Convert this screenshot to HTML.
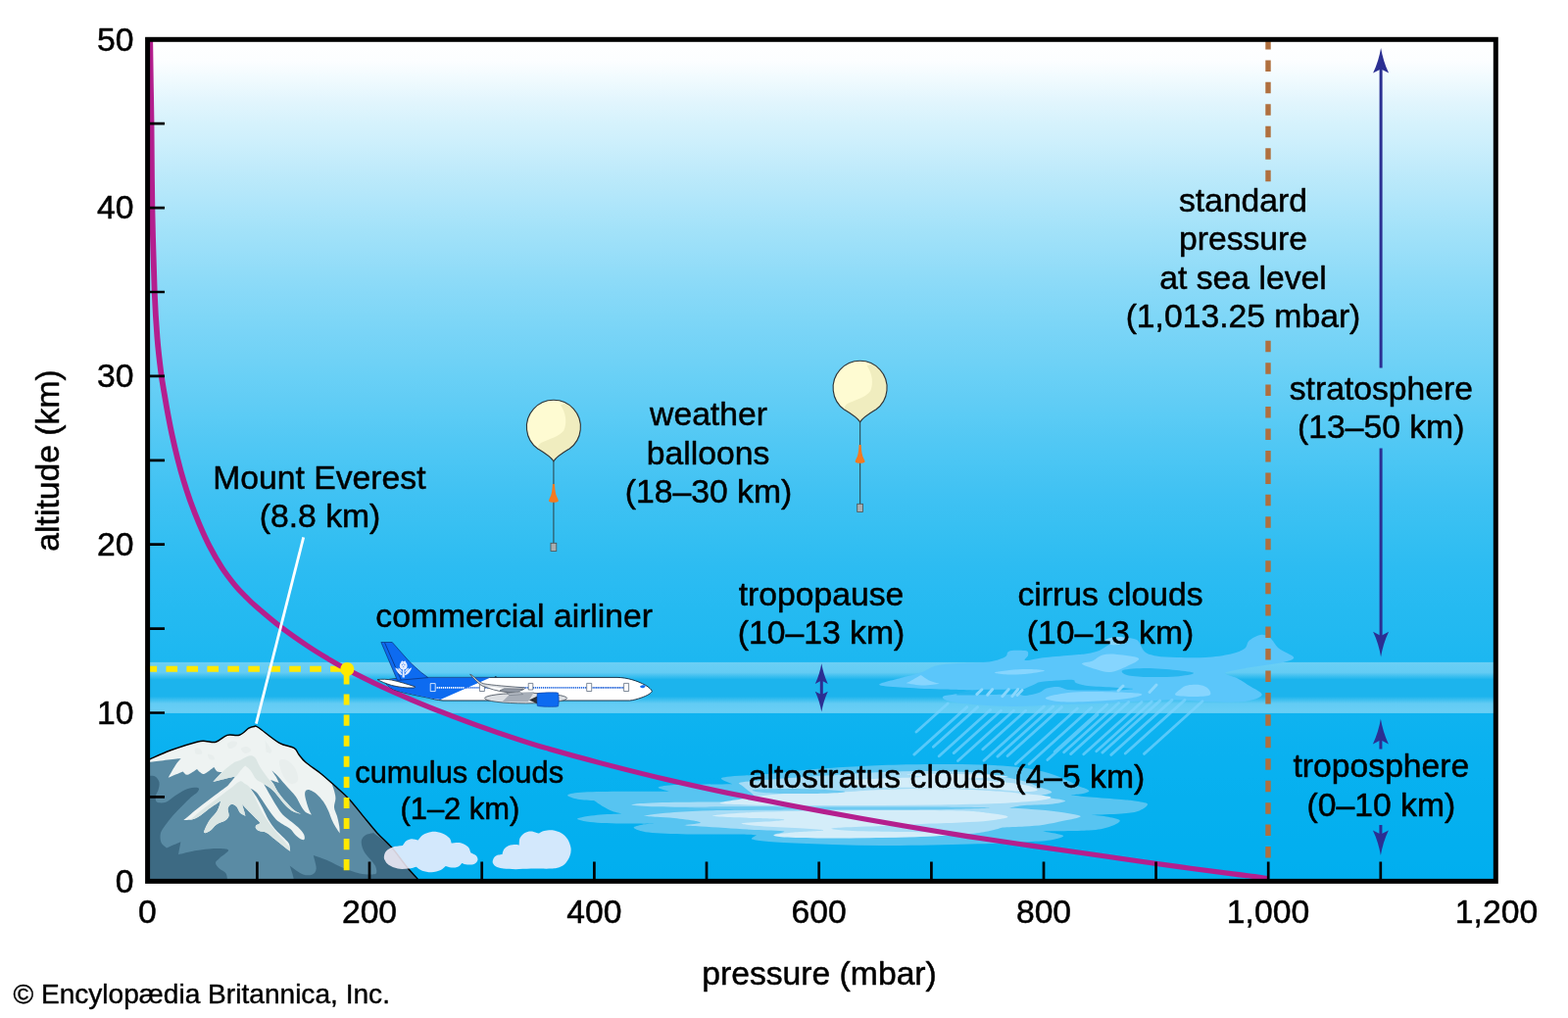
<!DOCTYPE html>
<html lang="en">
<head>
<meta charset="utf-8">
<title>Atmospheric pressure and altitude</title>
<style>
html,body{margin:0;padding:0;background:#fff;}
body{width:1600px;height:1039px;overflow:hidden;font-family:"Liberation Sans",sans-serif;}
svg{display:block;}
text{font-family:"Liberation Sans",sans-serif;font-size:33.7px;fill:#000;stroke:#000;stroke-width:0.5px;stroke-linejoin:round;}
.c{text-anchor:middle;}
.sm{font-size:30.9px;}
.r{text-anchor:end;}
.copy{font-size:28.1px;stroke-width:0.4px;}
</style>
</head>
<body>
<svg width="1600" height="1039" viewBox="0 0 1600 1039">
<defs>
<linearGradient id="sky" x1="0" y1="40" x2="0" y2="900" gradientUnits="userSpaceOnUse">
<stop offset="0" stop-color="#ffffff"/>
<stop offset="0.025" stop-color="#fcfeff"/>
<stop offset="0.05" stop-color="#effafe"/>
<stop offset="0.075" stop-color="#e1f5fd"/>
<stop offset="0.1" stop-color="#d6f2fc"/>
<stop offset="0.125" stop-color="#cceffc"/>
<stop offset="0.15" stop-color="#c1ebfb"/>
<stop offset="0.175" stop-color="#b7e8fa"/>
<stop offset="0.2" stop-color="#ade5fa"/>
<stop offset="0.225" stop-color="#a3e2f9"/>
<stop offset="0.25" stop-color="#9adff9"/>
<stop offset="0.275" stop-color="#91dcf8"/>
<stop offset="0.3" stop-color="#88d9f8"/>
<stop offset="0.325" stop-color="#80d7f7"/>
<stop offset="0.35" stop-color="#78d4f7"/>
<stop offset="0.375" stop-color="#71d2f6"/>
<stop offset="0.4" stop-color="#69d0f6"/>
<stop offset="0.425" stop-color="#62cdf5"/>
<stop offset="0.45" stop-color="#5acbf5"/>
<stop offset="0.475" stop-color="#52c8f4"/>
<stop offset="0.5" stop-color="#4bc6f4"/>
<stop offset="0.525" stop-color="#44c3f3"/>
<stop offset="0.55" stop-color="#3dc1f3"/>
<stop offset="0.575" stop-color="#38c0f2"/>
<stop offset="0.6" stop-color="#32bef2"/>
<stop offset="0.625" stop-color="#2dbcf2"/>
<stop offset="0.65" stop-color="#29bbf2"/>
<stop offset="0.675" stop-color="#25baf1"/>
<stop offset="0.7" stop-color="#22b9f1"/>
<stop offset="0.725" stop-color="#1eb8f1"/>
<stop offset="0.75" stop-color="#1ab6f1"/>
<stop offset="0.775" stop-color="#14b4f0"/>
<stop offset="0.8" stop-color="#0fb3f0"/>
<stop offset="0.825" stop-color="#0cb2f0"/>
<stop offset="0.85" stop-color="#0ab1f0"/>
<stop offset="0.875" stop-color="#08b1f0"/>
<stop offset="0.9" stop-color="#06b0ef"/>
<stop offset="0.925" stop-color="#05b0ef"/>
<stop offset="0.95" stop-color="#03afef"/>
<stop offset="0.975" stop-color="#02afef"/>
<stop offset="1" stop-color="#00aeef"/>
</linearGradient>
<linearGradient id="band" x1="0" y1="675.9" x2="0" y2="727.9" gradientUnits="userSpaceOnUse">
<stop offset="0" stop-color="#6bcff5"/>
<stop offset="0.2" stop-color="#64ccf4"/>
<stop offset="0.27" stop-color="#3fc0f0"/>
<stop offset="0.34" stop-color="#1cb4ed"/>
<stop offset="0.67" stop-color="#1cb4ed"/>
<stop offset="0.74" stop-color="#3fc0f0"/>
<stop offset="0.81" stop-color="#62cbf4"/>
<stop offset="1" stop-color="#6bcff5"/>
</linearGradient>
</defs>
<!-- SKY -->
<g id="sky-layer">
<rect x="150.6" y="40.3" width="1375.7" height="859.1" fill="url(#sky)"/>
<rect x="150.6" y="675.9" width="1375.7" height="52" fill="url(#band)"/>
</g>
<!-- ALTOSTRATUS -->
<g id="altostratus">
<path d="M736 795.1C735.1 793.9 738 793.4 742 792.8C746 792.2 752 792 760 791.5C768 791 780 790.4 790 789.5C800 788.6 808.3 787.1 820 786C831.7 784.9 846.7 783.8 860 783C873.3 782.2 885 781.5 900 781C915 780.5 933.3 780.1 950 780C966.7 779.9 985 780 1000 780.5C1015 781 1028.3 781.6 1040 783C1051.7 784.4 1061.7 786.7 1070 789C1078.3 791.3 1085 794.8 1090 797C1095 799.2 1097 800.7 1100 802C1103 803.3 1106.1 804.1 1108 805C1109.9 805.9 1111.8 806.8 1111.3 807.6C1110.8 808.4 1108.1 809.4 1105 810C1101.9 810.6 1094.9 811.2 1092.9 811.5C1096.1 811.8 1103.5 812.8 1112 813.5C1120.5 814.2 1136.3 815.3 1144 816C1151.7 816.7 1153.5 816.7 1158 817.5C1162.5 818.3 1170.5 819 1171 820.7C1171.5 822.5 1165.5 826.4 1161 828C1156.5 829.6 1151.8 829.9 1144 830.5C1136.2 831.1 1118.9 831.6 1113.9 831.8C1116.8 832.1 1126.2 832.8 1131 833.8C1135.8 834.8 1142.8 836 1142.8 837.8C1142.8 839.5 1136.3 842.7 1131 844.3C1125.7 845.9 1122.2 846.9 1111 847.6C1099.8 848.3 1071.8 848.4 1064 848.5C1066.4 848.9 1074.9 850.1 1078.4 850.9C1081.9 851.7 1086.1 852.4 1085 853.5C1083.9 854.6 1078.5 856.4 1071.9 857.4C1065.3 858.4 1054.4 858.8 1045.6 859.4C1036.8 860 1028.3 860.4 1019 860.7C1009.7 861.1 1001.5 861.2 990 861.5C978.5 861.8 965 862.2 950 862.5C935 862.8 916.7 863.1 900 863C883.3 862.9 866.7 862.5 850 862C833.3 861.5 812.5 860.7 800 860C787.5 859.3 780.5 858.6 775 858C769.5 857.4 767.4 857.1 766.9 856.1C766.4 855.1 771.2 852.9 772.1 852.2C769 852.1 765.6 851.6 753.8 851.5C742 851.4 716.6 851.8 701.3 851.5C686 851.2 671 850.7 661.9 849.6C652.8 848.5 647.9 846.3 646.8 845C645.7 843.7 651.7 842.4 655.3 841.7C658.9 841 666.2 840.8 668.4 840.6C665.1 840.6 658.6 840.8 648.8 840.6C639 840.5 619.4 840.5 609.4 839.7C599.4 838.9 589 837.1 589 835.8C589 834.5 601.9 832.7 609.4 831.8C616.9 830.9 630.1 830.7 634.3 830.5C632.8 830.1 628.2 829.2 625 828C621.8 826.8 618.1 824.8 615 823C611.9 821.2 607.6 818.1 606.1 817.1C603.4 816.9 594.2 816.6 589.7 815.7C585.2 814.8 578.1 812.7 579.2 811.5C580.3 810.3 586.8 809.2 596.2 808.6C605.6 808 621.2 807.9 635.6 807.8C650 807.7 675 807.8 682.9 807.8C681 807.1 670.8 804.7 671.7 803.6C672.6 802.5 681 801.5 688.1 801C695.2 800.5 704.5 800.8 714.4 800.7C724.2 800.6 741.7 800.4 747.2 800.3C745.3 799.4 736.9 796.4 736 795.1Z" fill="#57c4f1"/>
<g fill="#a6dcf6">
<path d="M644.2 821.3C644.2 820.7 652.4 819.8 665 819.4C677.6 819 697.5 818.8 720 818.6C742.5 818.4 775 818 800 818C825 818 852.5 817.9 870 818.3C887.5 818.7 905 819.9 905 820.6C905 821.3 887.5 822.2 870 822.7C852.5 823.2 825 823.2 800 823.4C775 823.6 742.5 823.7 720 823.7C697.5 823.7 677.6 823.6 665 823.2C652.4 822.8 644.2 821.9 644.2 821.3Z"/>
<path d="M657.9 832.5C660.9 831.7 676.5 829.9 688.1 829C699.7 828.1 712.2 827.6 727.5 827.2C742.8 826.8 767.9 826.8 780 826.6C792.1 826.4 798.3 826.8 800 826C801.7 825.2 794.2 823.7 790 822C785.8 820.3 779.2 818.3 775 816C770.8 813.7 767.8 810.2 765 808C762.2 805.8 759.8 804 758 802.5C756.2 801 752.4 799.9 754.4 799C756.4 798.1 762.4 797.8 770 797C777.6 796.2 786.7 795.5 800 794.5C813.3 793.5 833.3 792.1 850 791C866.7 789.9 883.3 788.7 900 788C916.7 787.3 933.3 786.8 950 787C966.7 787.2 985 787.5 1000 789C1015 790.5 1030 793.7 1040 796C1050 798.3 1054.5 801 1060 803C1065.5 805 1072.5 806.8 1073.2 808.2C1073.9 809.6 1066.4 810.7 1064 811.5C1061.6 812.3 1059.6 812.6 1058.7 812.8C1060.9 813.1 1067.3 813.7 1072 814.5C1076.7 815.3 1087 816.4 1087 817.4C1087 818.4 1078.9 819.9 1072 820.7C1065.1 821.5 1052.6 821.4 1045.6 822C1038.6 822.6 1032.6 824.1 1030 824.5C1035 824.8 1050.8 825.7 1060 826.5C1069.2 827.3 1077.9 828.1 1085 829.2C1092.1 830.3 1102.7 831.8 1102.7 833.2C1102.7 834.6 1091.2 836.4 1085 837.8C1078.8 839.2 1071.9 840.8 1065.3 841.7C1058.7 842.7 1052.6 843 1045.6 843.5C1038.6 844 1027 844.3 1023.3 844.5C1021.1 845.1 1015.5 846.9 1010 848C1004.5 849.1 1000 850.1 990 851C980 851.9 965 852.8 950 853.5C935 854.2 916.7 854.8 900 855C883.3 855.2 865 855.2 850 855C835 854.8 820 854.5 810 854C800 853.5 791.4 853.1 789.7 852.2C788 851.3 803.3 849.4 800 848.5C796.7 847.6 780 847.6 770 847C760 846.4 749.2 845.6 740 845C730.8 844.4 721.9 844 715 843.5C708.1 843 698.7 842.9 698.6 842.3C698.5 841.7 712.6 840.8 714.4 840C716.1 839.2 710 838.2 709.1 837.8C705.6 837.3 694.6 835.8 688.1 835.1C681.6 834.4 675 834.2 670 833.8C665 833.4 654.9 833.3 657.9 832.5Z"/>
</g><g fill="#d4edf9">
<path d="M735 820C731.7 818.9 749.2 816.7 760 815C770.8 813.3 783 811.1 800 810C817 808.9 845.3 808.9 862 808.2C878.7 807.5 883.7 806.6 900 806C916.3 805.4 941.7 804.6 960 804.5C978.3 804.4 995.8 804.9 1010 805.5C1024.2 806.1 1036.9 807.9 1045 808C1053.1 808.1 1058.7 807.4 1058.7 806.2C1058.7 805 1053.1 802.5 1045 801C1036.9 799.5 1020 798 1010 797C1000 796 985 795.6 985 795C985 794.4 1002.7 793.9 1010 793.5C1017.3 793.1 1028.6 792.9 1028.6 792.5C1028.6 792.1 1021.4 791.5 1010 791C998.6 790.5 974.2 789.9 960 789.8C945.8 789.7 928.3 790 925 790.5C921.7 791 944.2 792.3 940 793C935.8 793.7 913.3 793.8 900 794.5C886.7 795.2 865 795.9 860 797C855 798.1 863.3 799.9 870 801C876.7 802.1 888.3 803 900 803.5C911.7 804 923.3 803.5 940 804C956.7 804.5 981.7 805.4 1000 806.5C1018.3 807.6 1038 809.3 1050 810.5C1062 811.7 1070.3 812.4 1072 813.5C1073.7 814.6 1068.7 815.9 1060 817C1051.3 818.1 1036.7 819.2 1020 820C1003.3 820.8 980 821.2 960 821.5C940 821.8 920 821.9 900 822C880 822.1 860 822 840 822C820 822 797.5 822 780 821.7C762.5 821.4 738.3 821.1 735 820Z"/>
<path d="M727.5 832.5C730 831.8 744.6 830.3 760 829.5C775.4 828.7 796.7 828.2 820 827.8C843.3 827.4 873.3 827 900 827C926.7 827 961.7 827 980 827.5C998.3 828 1001.9 829 1010 830C1018.1 831 1028.6 832.5 1028.6 833.8C1028.6 835 1018.1 836.5 1010 837.5C1001.9 838.5 991.7 838.9 980 839.5C968.3 840.1 953.3 840.4 940 841C926.7 841.6 913.3 842.4 900 843C886.7 843.6 868.5 844 860 844.5C851.5 845 847 845.4 848.7 846C850.4 846.6 858.1 847.5 870 848C881.9 848.5 905 848.8 920 849C935 849.2 950.8 849.1 960 849.5C969.2 849.9 976.7 850.8 975 851.5C973.3 852.2 962.5 852.9 950 853.5C937.5 854.1 918.3 854.7 900 855C881.7 855.3 856.7 855.6 840 855.5C823.3 855.4 808.4 855 800 854.5C791.6 854 788 853 789.7 852.2C791.4 851.4 801.6 850.3 810 849.5C818.4 848.7 838.3 848.2 840 847.5C841.7 846.8 830 846.2 820 845.5C810 844.8 790.6 844.4 780 843.5C769.4 842.6 754.7 841.3 756.4 840.4C758.1 839.5 782.7 838.7 790 838C797.3 837.3 803.5 836.9 800.2 836.4C796.9 835.9 779.2 835.4 770 835C760.8 834.6 752.1 834.4 745 834C737.9 833.6 725 833.2 727.5 832.5Z"/>
</g><g fill="#6cc9f1">
<path d="M700 824.6C700 824.1 735 823.8 760 823.6C785 823.4 818.3 823.4 850 823.4C881.7 823.4 923.3 823.4 950 823.6C976.7 823.8 1010 824 1010 824.5C1010 825 976.7 825.9 950 826.3C923.3 826.6 881.7 826.6 850 826.6C818.3 826.6 785 826.7 760 826.4C735 826.1 700 825.1 700 824.6Z"/>
<path d="M770 806C775.8 805.4 796.7 804.9 810 805C823.3 805.1 841.3 806 850 806.5C858.7 807 863.7 807.7 862 808.2C860.3 808.8 850.3 809.5 840 809.8C829.7 810.1 810.8 810.2 800 810C789.2 809.8 780 809.2 775 808.5C770 807.8 764.2 806.6 770 806Z"/>
</g></g>
<!-- CIRRUS -->
<g id="cirrus">
<path d="M897.2 698.7C897.2 697.1 911.7 694.1 918.9 692C926.1 689.9 934.5 688.3 940.5 686.2C946.5 684.1 948.4 681.1 955 679.5C961.6 677.9 970.9 677.5 980 676.8C989.1 676.1 1002.2 676.4 1009.8 675.4C1017.4 674.4 1022.4 672.1 1025.5 670.5C1028.6 668.9 1027 666.6 1028.5 665.5C1030 664.4 1031.2 664 1034.4 663.8C1037.6 663.6 1045 663.4 1047.4 664.3C1049.8 665.1 1049.2 667.3 1049 668.9C1048.8 670.5 1043.5 673.6 1046.5 674C1049.5 674.4 1058.8 671.9 1067 671C1075.2 670.1 1088.4 669.2 1095.6 668.5C1102.8 667.8 1105.7 667.8 1110 667C1114.3 666.2 1117.6 665.8 1121.7 664C1125.8 662.2 1130.7 658.1 1134.7 656C1138.8 653.9 1141.8 652 1146 651.5C1150.2 651 1156.3 650.8 1160 653C1163.7 655.2 1164.6 662.2 1167.9 665C1171.2 667.8 1174.5 668.5 1180 669.5C1185.5 670.5 1192.7 670.8 1201 671C1209.3 671.2 1220.8 671.6 1230 671C1239.2 670.4 1249.3 668.9 1256 667.4C1262.7 665.9 1266.9 664.3 1270 662C1273.1 659.7 1272 656.1 1274.7 653.7C1277.4 651.4 1282.8 648.4 1286.3 647.9C1289.8 647.4 1292.9 648.7 1296 651C1299.1 653.3 1301 658.4 1305 661.7C1309 665 1319.5 668.6 1320.2 671C1320.9 673.4 1314.4 674.8 1309.4 676.1C1304.4 677.4 1297.4 677.9 1290 679C1282.6 680.1 1271.7 681.7 1265 683C1258.3 684.3 1250.5 685.5 1250 687C1249.5 688.5 1257.8 689.8 1262 692C1266.2 694.2 1270.7 697.1 1275 700C1279.3 702.9 1288.5 706.6 1287.7 709.3C1286.9 712 1278.8 714.9 1270 716C1261.2 717.1 1246.7 716.5 1235 716.2C1223.3 716 1211.3 714.6 1200 714.5C1188.7 714.4 1179.7 715 1167 715.5C1154.3 716 1138.3 717.1 1124 717.7C1109.7 718.3 1095.9 718.5 1081 719C1066.1 719.5 1049.4 720.9 1034.4 720.9C1019.4 720.9 1002.1 719.6 991 718.7C979.9 717.8 972.8 716.8 968 715.5C963.2 714.2 960.9 712.1 962.2 710.9C963.5 709.7 970.5 709.3 976 708.3C981.5 707.3 998.2 705.8 995.4 705C992.6 704.2 972 704.1 959.3 703.5C946.5 702.9 929.2 702.2 918.9 701.4C908.5 700.6 897.2 700.3 897.2 698.7Z" fill="#5bc6fa"/>
<g fill="#27b6ef">
<path d="M1054.5 699C1058.2 697.3 1057.8 696.8 1062 696C1066.2 695.2 1074.5 694.8 1080 694.5C1085.5 694.2 1092 693.6 1095 694C1098 694.4 1095.5 696 1098 697C1100.5 698 1103.8 699.2 1110 700C1116.2 700.8 1127.3 701 1135 701.5C1142.7 702 1155.2 702.5 1156 703C1156.8 703.5 1147.7 704.2 1140 704.5C1132.3 704.8 1118.3 704.6 1110 704.5C1101.7 704.4 1095 704.6 1090 704C1085 703.4 1083.7 701.2 1080 701C1076.3 700.8 1071.3 701.5 1068 702.5C1064.7 703.5 1063.8 705.8 1060 707C1056.2 708.2 1048.3 710.2 1045 710C1041.7 709.8 1038.4 707.8 1040 706C1041.6 704.2 1050.8 700.7 1054.5 699Z"/>
<path d="M1146 684C1149.3 682.8 1161 682 1170 682C1179 682 1192 683.2 1200 684C1208 684.8 1218 685.9 1218 687C1218 688.1 1208 689.8 1200 690.5C1192 691.2 1178.3 691.2 1170 691C1161.7 690.8 1154 690.2 1150 689C1146 687.8 1142.7 685.2 1146 684Z"/>
<path d="M995 704.3C1002.3 703.4 1011.5 703.9 1020 703.8C1028.5 703.7 1042.7 702.8 1046 703.5C1049.3 704.2 1046 707.1 1040 708C1034 708.9 1020.7 708.8 1010 709C999.3 709.2 978.5 710 976 709.2C973.5 708.4 987.7 705.2 995 704.3Z"/>
</g>
<g fill="#86d5fe">
<path d="M924.7 697.2C925.9 696.6 929.5 694.9 932 693.5C934.5 692.1 938.5 689.8 939.8 689.1C941.2 690 944.9 693 948 694.5C951.1 696 956.8 697.2 958.6 697.8C955.8 698.1 947.6 699.6 942 699.5C936.4 699.4 927.6 697.6 924.7 697.2Z"/>
<path d="M1104 677.5C1103.5 676.1 1111.5 676 1115 674.5C1118.5 673 1120.8 669.6 1125 668.5C1129.2 667.4 1133.8 667.4 1140 668C1146.2 668.6 1160.3 670 1162 672C1163.7 674 1154.8 677.7 1150 680C1145.2 682.3 1138.3 685.5 1133 686C1127.7 686.5 1122.8 684.4 1118 683C1113.2 681.6 1104.5 678.9 1104 677.5Z"/>
<path d="M1199.6 709.5C1197.4 708.2 1202.9 704.7 1205 703C1207.1 701.3 1208.7 700.1 1212 699.5C1215.3 698.9 1221.5 698.6 1225 699.2C1228.5 699.8 1231.5 701.3 1233 703C1234.5 704.7 1236.8 708.2 1234.3 709.5C1231.8 710.8 1223.8 711 1218 711C1212.2 711 1201.8 710.8 1199.6 709.5Z"/>
<path d="M1067 712C1068.7 710.5 1081.2 708 1090 707C1098.8 706 1107.7 705.8 1120 706C1132.3 706.2 1159 706.8 1164 708C1169 709.2 1159 711.7 1150 713C1141 714.3 1121.7 715.5 1110 716C1098.3 716.5 1087.2 716.7 1080 716C1072.8 715.3 1065.3 713.5 1067 712Z"/>
<path d="M1128 653C1129 651.7 1136.3 650.2 1140 650C1143.7 649.8 1149 650.3 1150 651.5C1151 652.7 1148.7 655.9 1146 657C1143.3 658.1 1137 658.7 1134 658C1131 657.3 1127 654.3 1128 653Z"/>
<path d="M1015 686.5C1015 685.8 1024.2 684.6 1030 684C1035.8 683.4 1044 682.9 1050 683C1056 683.1 1066 683.8 1066 684.5C1066 685.2 1056 686.8 1050 687.5C1044 688.2 1035.8 688.7 1030 688.5C1024.2 688.3 1015 687.2 1015 686.5Z"/>
</g>
<path d="M967.2 718.0L935.0 747.0M986.7 721.6L932.8 770.1M997.6 721.6L952.4 762.3M1010.6 724.5L958.2 771.7M1021.4 725.2L973.2 768.6M1034.4 725.2L977.5 776.5M1046.7 725.2L1002.8 764.7M1065.4 720.9L1004.0 776.2M1074.8 720.9L1017.9 772.1M1083.5 721.6L1028.1 771.5M1099.4 723.0L1036.4 779.8M1113.8 722.3L1050.1 779.7M1120.0 729.5L1068.9 775.5M1129.7 719.0L1076.2 767.2M1141.5 717.5L1085.7 767.7M1151.6 716.5L1092.6 769.6M1165.0 716.5L1105.8 769.8M1175.2 716.0L1118.8 766.8M1183.7 715.1L1124.9 768.1M1196.0 714.4L1133.8 770.4M1209.0 714.4L1148.3 769.0M1227.0 715.8L1167.5 769.4" stroke="#80d5ff" stroke-opacity="0.65" stroke-width="2.8" stroke-linecap="round" fill="none"/>
<path d="M1001.9 703.8L996.8 708.6M1012.7 703.5L1007.7 709.3M1029.3 703.5L1022.8 710.7M1038.7 703.5L1032.9 710.7M1043 704.3L1038 709.5M1146 700L1141 705M1180 699L1173 706.5" stroke="#8ad7fd" stroke-width="2.9" stroke-linecap="round" fill="none"/>
</g>
<!-- MOUNTAIN -->
<g id="mountain">
<clipPath id="mclip"><path d="M150.6 776C151 775.8 149 776.6 152.9 774.9C156.8 773.2 166.1 768.7 174.1 765.8C182.1 762.9 195.1 758.9 201 757.3C206.9 755.7 206.5 756.4 209.7 756.4C212.9 756.4 216.6 758.3 220.3 757.3C224 756.3 227.8 751.6 231.8 750.4C235.8 749.2 240.6 751.4 244.3 750.2C248 749 251.4 744.7 253.9 743.2C256.4 741.8 257.6 741.6 259.2 741.5C260.8 741.4 259.4 739.7 263.6 742.5C267.9 745.3 278.6 754.6 284.7 758.1C290.8 761.6 296.6 761.4 300 763.4C303.4 765.4 303 767.6 304.9 770C306.8 772.4 307.9 774.5 311.6 777.7C315.3 780.9 322 785.2 327 789.2C332 793.2 336.6 797.5 341.4 801.8C346.2 806.1 351.1 810.1 355.9 815.2C360.7 820.3 365.5 826.8 370.3 832.6C375.1 838.4 379.8 844.5 384.7 849.9C389.6 855.3 394.9 859.5 400 865.3C405.1 871.1 410.5 879.2 415.1 884.7C419.7 890.2 425.4 896.2 427.5 898.5C381.4 898.5 196.8 898.5 150.6 898.5C150.6 878.1 150.6 796.4 150.6 776Z"/></clipPath>
<clipPath id="sclip"><path d="M150.6 776C151 775.8 149 776.6 152.9 774.9C156.8 773.2 166.1 768.7 174.1 765.8C182.1 762.9 195.1 758.9 201 757.3C206.9 755.7 206.5 756.4 209.7 756.4C212.9 756.4 216.6 758.3 220.3 757.3C224 756.3 227.8 751.6 231.8 750.4C235.8 749.2 240.6 751.4 244.3 750.2C248 749 251.4 744.7 253.9 743.2C256.4 741.8 257.6 741.6 259.2 741.5C260.8 741.4 259.4 739.7 263.6 742.5C267.9 745.3 278.6 754.6 284.7 758.1C290.8 761.6 296.6 761.4 300 763.4C303.4 765.4 303 767.6 304.9 770C306.8 772.4 307.9 774.5 311.6 777.7C315.3 780.9 322.5 785.6 327 789.2C331.5 792.8 336.6 797.6 338.5 799.3C339 800.8 340.8 805.9 341.4 808.5C342 811.1 342.5 812.6 342.4 815.2C342.3 817.8 340.8 821 341 823.9C341.2 826.8 342.9 829.4 343.8 832.6C344.7 835.8 345.7 840.1 346.2 843.1C346.7 846.1 346.6 849.2 346.7 850.4C346 849.4 343.8 846.4 342.4 844.1C341 841.8 339.8 839.3 338.5 836.4C337.2 833.5 336.1 829.8 334.7 826.8C333.3 823.8 331.8 820.8 329.9 818.1C328 815.4 325.4 812.4 323.1 810.4C320.9 808.4 318.1 807 316.4 806.4C314.6 805.8 313.5 805.9 312.6 806.6C311.7 807.3 311.1 808.5 311.1 810.4C311.1 812.3 311.9 815.4 312.6 818.1C313.3 820.8 314.5 824.5 315.4 826.8C316.3 829 317.5 830.8 317.9 831.6C316.8 831.1 313.5 830.3 311.6 828.7C309.8 827.1 308.4 824.6 306.8 822C305.2 819.4 303.8 815.9 302 813.3C300.2 810.7 298.4 809.2 296.2 806.6C293.9 804 290.8 800.5 288.5 797.9C286.2 795.3 284.6 793.1 282.7 791.2C280.8 789.3 278.3 787.2 277.4 786.4C278.1 787.5 280.6 791 281.8 793.1C283 795.2 284.1 797.9 284.6 798.9C283.2 798.4 277.4 796.5 276 796C276.5 796.6 277.6 797.7 278.9 799.8C280.2 801.9 281.6 805.5 283.7 808.5C285.8 811.5 288.7 815.1 291.4 818.1C294.1 821.1 297.4 824.7 300 826.8C302.6 828.9 305.7 830 306.8 830.6C305.4 830.1 300.8 829.3 298.1 827.7C295.4 826.1 293 823.7 290.4 821C287.8 818.3 285.1 814.1 282.7 811.4C280.3 808.7 278.2 806.5 276 804.6C273.8 802.8 270.3 801 269.2 800.3C270.2 802 272.9 806.8 275 810.4C277.1 814 279.6 818.5 281.8 822C284.1 825.5 285.8 828.7 288.5 831.6C291.2 834.5 295.2 836.9 298.1 839.3C301 841.7 303.8 843.9 305.8 846C307.8 848.1 309.4 850 310.2 851.8C311 853.6 311 855.8 310.6 856.6C310.2 857.4 309.1 857.4 307.7 856.8C306.3 856.2 303.9 854.6 302 852.8C300.1 851 298.4 847.9 296.2 846C293.9 844.1 290.9 842.8 288.5 841.2C286.1 839.6 284.1 838.6 281.8 836.4C279.6 834.1 277.4 831.1 275 827.7C272.6 824.3 269.6 819.4 267.3 816.2C265.1 813 263.5 810.5 261.5 808.5C259.5 806.5 256.5 805.2 255.5 804.5C256.6 806.1 260.3 811 262.4 814.4C264.5 817.8 266.3 821.3 268.2 825C270.1 828.7 271.8 833.1 273.9 836.6C276 840.1 278 843 280.7 846.2C283.4 849.4 287.9 853.2 290.3 855.8C292.7 858.4 294.1 859.4 295.1 861.6C296.1 863.8 295.9 867.6 296.1 868.8C295.1 868.1 292.9 866.5 290.3 864.5C287.7 862.5 283.8 859.2 280.7 856.8C277.6 854.4 274.7 851.5 272 850C269.3 848.5 266.1 848.9 264.3 848.1C262.5 847.3 261.5 846.2 261 845.2C260.5 844.2 260.8 843.1 261.4 842.3C262 841.5 264.3 841 264.8 840.4C265.3 839.8 265.7 840.1 264.3 838.5C262.9 836.9 259.5 833.8 256.6 830.8C253.7 827.8 248.6 822.4 247 820.7C247.3 821.7 248.3 824.9 248.9 826.9C249.5 828.9 250.2 831.7 250.4 832.7C249.5 832.2 246.6 831.4 245.1 829.8C243.6 828.2 242.6 824.6 241.2 823.1C239.8 821.6 237.8 820.4 236.4 820.7C235 821 233.1 823 232.6 825C232.1 827 234 830.6 233.5 832.7C233 834.8 231.8 836 229.7 837.5C227.6 839 223.6 839.6 221 841.4C218.4 843.2 216.4 846.7 214.3 848.1C212.2 849.5 209.3 850.5 208.5 850C207.7 849.5 208.5 847.4 209.5 845.2C210.5 843 212.2 839.7 214.3 836.6C216.4 833.5 220.2 830.1 222 826.9C223.8 823.7 224.8 818.9 225.3 817.3C223 818.9 215.8 823.8 211.4 826.9C207 830 202.9 833.9 198.9 835.6C194.9 837.3 189.2 836.9 187.3 837.1C189.4 835.3 195.8 829.8 200 826.4C204.2 823 208.4 820 212.6 816.8C216.8 813.6 221.7 809.8 225.1 807.2C228.5 804.6 230.3 803.8 232.8 801.4C235.3 799 238.8 794.1 240 792.6C237.8 793.1 230.8 794.7 227 795.6C223.2 796.5 219 797.6 217.4 798C218.9 796.3 225 789.6 226.5 787.9C225.7 787.8 223.1 788.3 221.7 787.5C220.3 786.7 218.9 783.8 218.3 783.1C216.7 784.2 211.1 788.9 208.7 789.7C206.3 790.5 205.2 788.7 203.9 787.9C202.6 787.1 201.5 785.5 201 785C199.4 786 193.8 790.4 191.4 790.8C189 791.2 187.4 788 186.6 787.5C184.1 788.5 174.2 792.7 171.7 793.7C172.9 791.6 176.8 784.5 178.9 781.2C181.1 777.9 183.7 775.2 184.6 774C179.3 774.6 158.6 777.1 152.9 777.8C147.2 778.5 151 778 150.6 778C150.6 777.7 150.6 776.3 150.6 776Z"/></clipPath>
<path d="M150.6 776C151 775.8 149 776.6 152.9 774.9C156.8 773.2 166.1 768.7 174.1 765.8C182.1 762.9 195.1 758.9 201 757.3C206.9 755.7 206.5 756.4 209.7 756.4C212.9 756.4 216.6 758.3 220.3 757.3C224 756.3 227.8 751.6 231.8 750.4C235.8 749.2 240.6 751.4 244.3 750.2C248 749 251.4 744.7 253.9 743.2C256.4 741.8 257.6 741.6 259.2 741.5C260.8 741.4 259.4 739.7 263.6 742.5C267.9 745.3 278.6 754.6 284.7 758.1C290.8 761.6 296.6 761.4 300 763.4C303.4 765.4 303 767.6 304.9 770C306.8 772.4 307.9 774.5 311.6 777.7C315.3 780.9 322 785.2 327 789.2C332 793.2 336.6 797.5 341.4 801.8C346.2 806.1 351.1 810.1 355.9 815.2C360.7 820.3 365.5 826.8 370.3 832.6C375.1 838.4 379.8 844.5 384.7 849.9C389.6 855.3 394.9 859.5 400 865.3C405.1 871.1 410.5 879.2 415.1 884.7C419.7 890.2 425.4 896.2 427.5 898.5C381.4 898.5 196.8 898.5 150.6 898.5C150.6 878.1 150.6 796.4 150.6 776Z" fill="#5a8ba4"/>
<g clip-path="url(#mclip)" fill="#3d6a83">
<path d="M150.6 791.5C151 791.5 151.6 791.6 152.9 791.8C154.2 792 157.1 791.6 158.7 792.7C160.3 793.8 162 796.2 162.5 798.5C163 800.8 162.1 804 161.5 806.2C160.9 808.5 159.3 810 159.1 812C158.8 814 158.3 817.4 160 818.5C161.7 819.6 166 819.8 169.2 818.7C172.3 817.6 175.7 814.1 178.9 812C182.1 809.9 185.3 807.6 188.5 806.2C191.7 804.8 195.7 804 198.1 803.8C200.5 803.6 202.4 803.9 202.9 804.8C203.4 805.7 202.5 807.4 201 809C199.5 810.6 197.6 811.1 194 814.4C190.4 817.7 183.6 824.6 179.6 828.9C175.6 833.2 172.6 836.9 170 840.4C167.4 843.9 164.9 846.7 164 850C163.1 853.3 163.5 857.4 164.5 860C165.5 862.6 169.1 864.5 170 865.4C172.4 864.4 182 860.2 184.4 859.2C184 861.4 182.4 870 182 872.2C184.8 871.6 193.7 869.3 198.9 868.3C204.1 867.3 208.5 866.8 213.3 866.4C218.1 866 224.4 865.9 227.7 866.2C231 866.5 233.6 866.7 233 868.3C232.4 869.9 226.1 873.9 223.9 876C221.7 878.1 220 879 220 880.8C220 882.6 222.1 884.8 223.9 886.6C225.7 888.4 229.2 889.4 230.6 891.4C231.9 893.4 231.8 897.3 232 898.5C218.4 898.5 164.2 898.5 150.6 898.5C150.6 880.7 150.6 809.3 150.6 791.5Z"/>
<path d="M381 850C379.6 850.4 374.8 851.2 372.8 852.5C370.8 853.8 369.4 855.6 368.9 857.7C368.4 859.9 369.1 863 369.9 865.4C370.7 867.8 372.1 870 373.7 872.2C375.3 874.5 377.9 876.8 379.5 878.9C381.1 881 382.7 882.6 383.4 884.7C384.1 886.8 384.9 890.3 383.8 891.6C382.7 892.9 379.4 892.4 376.6 892.4C373.8 892.4 370.2 892 367 891.4C363.8 890.8 360.6 889.6 357.4 888.5C354.2 887.4 350.9 886.1 347.7 884.7C344.5 883.3 341.3 881.4 338.1 879.9C334.9 878.4 331.6 877.1 328.5 876C325.4 874.9 321.2 873.6 319.8 873.1C320.3 875.4 322.9 883.4 322.7 886.6C322.5 889.8 321.1 891.4 318.9 892.4C316.6 893.4 313 893.8 309.2 892.4C305.4 891 298 885.2 295.8 883.7C296.2 885.1 297.8 889.5 298.5 892C299.2 894.5 299.8 897.4 300 898.5C321.2 898.5 406.2 898.5 427.5 898.5C425.4 896.2 419.7 890.2 415.1 884.7C410.5 879.2 405.7 871.1 400 865.3C394.3 859.5 384.2 852.5 381 850Z"/>
</g>
<path d="M150.6 776C151 775.8 149 776.6 152.9 774.9C156.8 773.2 166.1 768.7 174.1 765.8C182.1 762.9 195.1 758.9 201 757.3C206.9 755.7 206.5 756.4 209.7 756.4C212.9 756.4 216.6 758.3 220.3 757.3C224 756.3 227.8 751.6 231.8 750.4C235.8 749.2 240.6 751.4 244.3 750.2C248 749 251.4 744.7 253.9 743.2C256.4 741.8 257.6 741.6 259.2 741.5C260.8 741.4 259.4 739.7 263.6 742.5C267.9 745.3 278.6 754.6 284.7 758.1C290.8 761.6 296.6 761.4 300 763.4C303.4 765.4 303 767.6 304.9 770C306.8 772.4 307.9 774.5 311.6 777.7C315.3 780.9 322.5 785.6 327 789.2C331.5 792.8 336.6 797.6 338.5 799.3C339 800.8 340.8 805.9 341.4 808.5C342 811.1 342.5 812.6 342.4 815.2C342.3 817.8 340.8 821 341 823.9C341.2 826.8 342.9 829.4 343.8 832.6C344.7 835.8 345.7 840.1 346.2 843.1C346.7 846.1 346.6 849.2 346.7 850.4C346 849.4 343.8 846.4 342.4 844.1C341 841.8 339.8 839.3 338.5 836.4C337.2 833.5 336.1 829.8 334.7 826.8C333.3 823.8 331.8 820.8 329.9 818.1C328 815.4 325.4 812.4 323.1 810.4C320.9 808.4 318.1 807 316.4 806.4C314.6 805.8 313.5 805.9 312.6 806.6C311.7 807.3 311.1 808.5 311.1 810.4C311.1 812.3 311.9 815.4 312.6 818.1C313.3 820.8 314.5 824.5 315.4 826.8C316.3 829 317.5 830.8 317.9 831.6C316.8 831.1 313.5 830.3 311.6 828.7C309.8 827.1 308.4 824.6 306.8 822C305.2 819.4 303.8 815.9 302 813.3C300.2 810.7 298.4 809.2 296.2 806.6C293.9 804 290.8 800.5 288.5 797.9C286.2 795.3 284.6 793.1 282.7 791.2C280.8 789.3 278.3 787.2 277.4 786.4C278.1 787.5 280.6 791 281.8 793.1C283 795.2 284.1 797.9 284.6 798.9C283.2 798.4 277.4 796.5 276 796C276.5 796.6 277.6 797.7 278.9 799.8C280.2 801.9 281.6 805.5 283.7 808.5C285.8 811.5 288.7 815.1 291.4 818.1C294.1 821.1 297.4 824.7 300 826.8C302.6 828.9 305.7 830 306.8 830.6C305.4 830.1 300.8 829.3 298.1 827.7C295.4 826.1 293 823.7 290.4 821C287.8 818.3 285.1 814.1 282.7 811.4C280.3 808.7 278.2 806.5 276 804.6C273.8 802.8 270.3 801 269.2 800.3C270.2 802 272.9 806.8 275 810.4C277.1 814 279.6 818.5 281.8 822C284.1 825.5 285.8 828.7 288.5 831.6C291.2 834.5 295.2 836.9 298.1 839.3C301 841.7 303.8 843.9 305.8 846C307.8 848.1 309.4 850 310.2 851.8C311 853.6 311 855.8 310.6 856.6C310.2 857.4 309.1 857.4 307.7 856.8C306.3 856.2 303.9 854.6 302 852.8C300.1 851 298.4 847.9 296.2 846C293.9 844.1 290.9 842.8 288.5 841.2C286.1 839.6 284.1 838.6 281.8 836.4C279.6 834.1 277.4 831.1 275 827.7C272.6 824.3 269.6 819.4 267.3 816.2C265.1 813 263.5 810.5 261.5 808.5C259.5 806.5 256.5 805.2 255.5 804.5C256.6 806.1 260.3 811 262.4 814.4C264.5 817.8 266.3 821.3 268.2 825C270.1 828.7 271.8 833.1 273.9 836.6C276 840.1 278 843 280.7 846.2C283.4 849.4 287.9 853.2 290.3 855.8C292.7 858.4 294.1 859.4 295.1 861.6C296.1 863.8 295.9 867.6 296.1 868.8C295.1 868.1 292.9 866.5 290.3 864.5C287.7 862.5 283.8 859.2 280.7 856.8C277.6 854.4 274.7 851.5 272 850C269.3 848.5 266.1 848.9 264.3 848.1C262.5 847.3 261.5 846.2 261 845.2C260.5 844.2 260.8 843.1 261.4 842.3C262 841.5 264.3 841 264.8 840.4C265.3 839.8 265.7 840.1 264.3 838.5C262.9 836.9 259.5 833.8 256.6 830.8C253.7 827.8 248.6 822.4 247 820.7C247.3 821.7 248.3 824.9 248.9 826.9C249.5 828.9 250.2 831.7 250.4 832.7C249.5 832.2 246.6 831.4 245.1 829.8C243.6 828.2 242.6 824.6 241.2 823.1C239.8 821.6 237.8 820.4 236.4 820.7C235 821 233.1 823 232.6 825C232.1 827 234 830.6 233.5 832.7C233 834.8 231.8 836 229.7 837.5C227.6 839 223.6 839.6 221 841.4C218.4 843.2 216.4 846.7 214.3 848.1C212.2 849.5 209.3 850.5 208.5 850C207.7 849.5 208.5 847.4 209.5 845.2C210.5 843 212.2 839.7 214.3 836.6C216.4 833.5 220.2 830.1 222 826.9C223.8 823.7 224.8 818.9 225.3 817.3C223 818.9 215.8 823.8 211.4 826.9C207 830 202.9 833.9 198.9 835.6C194.9 837.3 189.2 836.9 187.3 837.1C189.4 835.3 195.8 829.8 200 826.4C204.2 823 208.4 820 212.6 816.8C216.8 813.6 221.7 809.8 225.1 807.2C228.5 804.6 230.3 803.8 232.8 801.4C235.3 799 238.8 794.1 240 792.6C237.8 793.1 230.8 794.7 227 795.6C223.2 796.5 219 797.6 217.4 798C218.9 796.3 225 789.6 226.5 787.9C225.7 787.8 223.1 788.3 221.7 787.5C220.3 786.7 218.9 783.8 218.3 783.1C216.7 784.2 211.1 788.9 208.7 789.7C206.3 790.5 205.2 788.7 203.9 787.9C202.6 787.1 201.5 785.5 201 785C199.4 786 193.8 790.4 191.4 790.8C189 791.2 187.4 788 186.6 787.5C184.1 788.5 174.2 792.7 171.7 793.7C172.9 791.6 176.8 784.5 178.9 781.2C181.1 777.9 183.7 775.2 184.6 774C179.3 774.6 158.6 777.1 152.9 777.8C147.2 778.5 151 778 150.6 778C150.6 777.7 150.6 776.3 150.6 776Z" fill="#eef3f2"/>
<g clip-path="url(#sclip)" fill="#dbe6e4">
<path d="M253.9 771.5C256.4 771 258.2 771.2 260.1 773.1C262 775 263.3 779.6 265.5 783.1C267.7 786.6 271.1 791.3 273.2 793.9C275.3 796.5 276.7 797.5 278 798.5C279.3 799.5 279.7 798.3 281 800C282.3 801.7 283.8 805.5 286 808.5C288.2 811.5 291.2 815 294 818C296.8 821 300 824.5 302.5 826.8C305 829.1 308.9 831 309 832C309.1 833 305.3 833.7 303 833C300.7 832.3 297.7 829.7 295 827.7C292.3 825.7 289.7 823.7 287 821C284.3 818.3 281.9 814.9 279 811.4C276.1 807.9 272.2 802.9 269.3 800.3C266.4 797.6 263.9 797.9 261.6 795.5C259.3 793.1 257.4 788.5 255.5 786.2C253.6 783.9 251 782.4 250.1 781.6C249.2 782.5 246.7 785.1 245 787C243.3 788.9 242.8 791.3 240 793C237.2 794.7 232.2 795.8 228 797C223.8 798.2 215.2 801.5 215 800C214.8 798.5 223.1 791.4 227 787.8C230.9 784.2 235.5 780.5 238.5 778.5C241.5 776.5 242.4 777.2 245 776C247.6 774.8 251.4 772 253.9 771.5Z"/>
<path d="M244.7 797.4C247 796.7 248.2 798.8 250 800C251.8 801.2 253.5 801.5 255.5 804.5C257.5 807.5 259.9 813.8 262 818C264.1 822.2 265.7 826 268 830C270.3 834 273.2 838.2 276 842C278.8 845.8 282.2 849.7 285 853C287.8 856.3 290.8 858.8 293 862C295.2 865.2 305.2 870.3 298 872C290.8 873.7 266.3 874.8 250 872C233.7 869.2 211.2 860.3 200 855C188.8 849.7 184.3 842.8 183 840C181.7 837.2 188.7 839.8 192 838C195.3 836.2 199.1 832.1 203 829C206.9 825.9 211.3 822.7 215.5 819.5C219.7 816.3 224.6 812.6 228 810C231.4 807.4 233.2 806.1 236 804C238.8 801.9 242.4 798.1 244.7 797.4Z"/>
<g fill="#e8eeed">
<path d="M232 759C232.5 757.8 235.3 756.8 237 756.5C238.7 756.2 241.5 756.6 242 757.5C242.5 758.4 241.3 760.9 240 762C238.7 763.1 235.3 764.5 234 764C232.7 763.5 231.5 760.2 232 759Z"/>
<path d="M270.5 755.5L277.5 766L276 769L271.5 767.5Z"/>
<path d="M285 777C285.7 774.3 290.3 774.8 293 776C295.7 777.2 299.2 780.7 301 784C302.8 787.3 304.7 793.3 304 796C303.3 798.7 299.5 800.7 297 800C294.5 799.3 291 795.8 289 792C287 788.2 284.3 779.7 285 777Z"/>
<path d="M212 770C212.5 769.3 215.8 770.2 217 771C218.2 771.8 219.5 774.3 219 775C218.5 775.7 215.2 775.8 214 775C212.8 774.2 211.5 770.7 212 770Z"/>
<path d="M199 764C199.7 763.1 202.8 763.2 204 764C205.2 764.8 206.7 768.1 206 769C205.3 769.9 201.2 770.3 200 769.5C198.8 768.7 198.3 764.9 199 764Z"/>
<path d="M246 764C246.3 762.8 250.3 761.7 252 762C253.7 762.3 256.3 764.8 256 766C255.7 767.2 251.7 769.3 250 769C248.3 768.7 245.7 765.2 246 764Z"/>
</g></g>
<path d="M150.6 776C151 775.8 149 776.6 152.9 774.9C156.8 773.2 166.1 768.7 174.1 765.8C182.1 762.9 195.1 758.9 201 757.3C206.9 755.7 206.5 756.4 209.7 756.4C212.9 756.4 216.6 758.3 220.3 757.3C224 756.3 227.8 751.6 231.8 750.4C235.8 749.2 240.6 751.4 244.3 750.2C248 749 251.4 744.7 253.9 743.2C256.4 741.8 257.6 741.6 259.2 741.5C260.8 741.4 259.4 739.7 263.6 742.5C267.9 745.3 278.6 754.6 284.7 758.1C290.8 761.6 296.6 761.4 300 763.4C303.4 765.4 303 767.6 304.9 770C306.8 772.4 307.9 774.5 311.6 777.7C315.3 780.9 322 785.2 327 789.2C332 793.2 336.6 797.5 341.4 801.8C346.2 806.1 351.1 810.1 355.9 815.2C360.7 820.3 365.5 826.8 370.3 832.6C375.1 838.4 379.8 844.5 384.7 849.9C389.6 855.3 394.9 859.5 400 865.3C405.1 871.1 410.5 879.2 415.1 884.7C419.7 890.2 425.4 896.2 427.5 898.5" fill="none" stroke="#000" stroke-width="1.45" stroke-linejoin="round"/>
</g>
<!-- CUMULUS -->
<g id="cumulus" fill="#f8f2fe" fill-opacity="0.85">
<path d="M391.9 873.9C392.1 872.3 392.7 870 394.2 868.4C395.8 866.9 398.5 865.4 401.2 864.5C404 863.6 409.3 863.4 410.9 863.1C411.5 862.3 413 859.4 414.5 858.3C416 857.1 418 856.4 420 856.2C422 856.1 425.5 857.3 426.6 857.5C427.4 856.6 429.4 853.5 431.7 852C434 850.6 437.1 849.2 440.3 848.9C443.6 848.6 448.2 849.3 451.2 850.5C454.3 851.6 457.2 853.9 458.8 855.6C460.3 857.3 460.3 859.8 460.6 860.6C462.2 860.6 467.1 859.7 470 860.3C472.9 861 476.1 862.9 477.8 864.5C479.5 866.2 479.9 869.3 480.3 870.3C481.2 870.8 484.4 871.9 485.6 873.1C486.8 874.4 487.8 876.4 487.5 877.8C487.2 879.2 485.8 880.9 484.1 881.7C482.3 882.5 479.2 882.6 477 882.5C474.9 882.4 472.2 881.2 471.2 880.9C470.7 881.5 469.4 883.6 467.7 884.4C465.9 885.2 462.8 885.7 460.6 885.6C458.5 885.6 455.7 884.3 454.7 884.1C453.9 884.7 452.1 886.9 449.7 888C447.3 889 443.4 890.2 440.3 890.3C437.2 890.4 433.5 889.7 430.9 888.8C428.3 887.8 425.7 885.5 424.7 884.8C423.4 885.1 420 886.3 416.9 886.6C413.8 886.8 409.3 887.2 405.9 886.6C402.6 885.9 398.8 884.2 396.6 882.8C394.4 881.4 393.6 879.6 392.8 878.1C392 876.6 391.6 875.5 391.9 873.9Z"/>
<path d="M502.8 878.6C503 877.6 503.6 876 504.4 875C505.2 874 506.1 873.3 507.5 872.8C508.9 872.3 511.7 872 512.5 871.9C512.8 871 513.4 868 514.5 866.6C515.7 865.1 517.3 863.8 519.2 863C521.2 862.2 524.5 862 526.2 861.9C528 861.8 529.1 862.4 529.7 862.5C529.8 861.3 529.6 857.2 530.6 855.2C531.6 853.1 533.8 851.1 535.6 850C537.5 848.9 539.5 848.3 541.9 848.4C544.3 848.5 548.6 850.3 550 850.6C550.9 850.2 552.9 848.7 555.2 848.1C557.4 847.6 560.8 847 563.8 847.3C566.7 847.7 570.5 848.9 573.1 850.5C575.7 852 577.8 854.2 579.4 856.7C580.9 859.2 582.1 862.6 582.5 865.3C582.9 868 582.5 870.7 581.7 873.1C580.9 875.6 579.5 878.2 577.8 880.2C576.1 882.1 574.2 883.8 571.6 884.8C569 885.9 567.1 886.3 562.2 886.6C557.2 886.8 547.9 886.5 541.9 886.6C535.9 886.7 530.9 887.2 526.2 887.2C521.6 887.2 517.1 887 513.8 886.6C510.4 886.1 508 885.3 506.2 884.4C504.5 883.5 503.7 882.2 503.1 881.2C502.6 880.3 502.6 879.6 502.8 878.6Z"/>
</g>
<!-- DASHED -->
<g id="dashed">
<path d="M1294 38.94V185.2M1294 347.7V880" stroke="#b06f3e" stroke-width="5.4" stroke-dasharray="11.5 10.95" fill="none"/>
<path d="M148.55 682.8H354" stroke="#ffe900" stroke-width="6" stroke-dasharray="11.6 9.35" fill="none"/>
<path d="M353.6 687.4V897" stroke="#ffe900" stroke-width="5.8" stroke-dasharray="11.1 9.98" fill="none"/>
</g>
<!-- CURVE -->
<g id="curve">
<g transform="scale(1.07 0.94)"><path id="pcurve" d="M143.18 44.68C143.29 53.19 143.63 80.85 143.83 95.74C144.03 110.64 144.17 112.41 144.39 134.04C144.62 155.67 144.68 195.04 145.18 225.53C145.68 256.03 146.58 293.44 147.38 317.02C148.19 340.6 148.97 352.48 149.99 367.02C151.01 381.56 152.38 394.13 153.51 404.26C154.64 414.38 155.62 419.91 156.78 427.77C157.93 435.62 159.19 443.92 160.42 451.38C161.65 458.85 162.64 464.72 164.14 472.55C165.64 480.39 167.62 490.16 169.45 498.4C171.28 506.65 173.04 514.17 175.12 522.02C177.2 529.88 179.45 537.7 181.94 545.53C184.44 553.37 187.13 561.19 190.07 569.04C193.02 576.9 196.06 584.8 199.64 592.66C203.21 600.51 207.51 609.11 211.55 616.17C215.59 623.23 220.1 629.75 223.86 635C227.62 640.25 230.69 643.71 234.11 647.66C237.53 651.61 238.95 653.37 244.37 658.72C249.79 664.08 258.54 672.73 266.63 679.79C274.72 686.84 285.3 695.21 292.92 701.06C300.53 706.91 306.05 710.64 312.31 714.89C318.57 719.15 321.89 721.49 330.48 726.6C339.07 731.7 353.4 739.93 363.84 745.53C374.29 751.13 383.21 755.44 393.15 760.21C403.09 764.98 413.16 769.57 423.48 774.15C433.8 778.72 442.38 782.54 455.07 787.66C467.77 792.78 488.18 800.62 499.67 804.89C511.16 809.17 513.88 809.98 524.02 813.3C534.16 816.61 548.28 821.05 560.53 824.79C572.78 828.53 584.72 832.07 597.52 835.74C610.33 839.41 623.21 843.05 637.36 846.81C651.52 850.57 670.4 855.32 682.47 858.3C694.54 861.28 698.91 862.22 709.79 864.68C720.68 867.15 735.23 870.35 747.76 873.09C760.28 875.82 769.41 877.82 784.94 881.06C800.48 884.31 822.15 888.81 840.95 892.55C859.76 896.29 882.12 900.57 897.78 903.51C913.43 906.45 922.41 908.05 934.9 910.21C947.38 912.38 960.4 914.47 972.68 916.49C984.96 918.51 993.39 919.86 1008.59 922.34C1023.79 924.82 1044.6 928.26 1063.88 931.38C1083.16 934.5 1105.67 938.16 1124.28 941.06C1142.89 943.97 1163.56 947.06 1175.56 948.83C1187.56 950.6 1190.63 950.87 1196.26 951.7C1201.89 952.54 1207.17 953.48 1209.35 953.83" stroke="#b41f8e" stroke-width="5.45" fill="none"/></g>
<circle cx="354.3" cy="683" r="7.1" fill="#ffe900"/>
</g>
<path d="M309.7 548.3L261.4 738.6" stroke="#fff" stroke-width="2.8" fill="none"/>
<!-- BALLOONS -->
<g id="balloons">
<defs>
<g id="balloon">
<path d="M0 33.5V118.5" stroke="#2f5560" stroke-width="1.2" fill="none"/>
<path d="M-16.2 22.2A27.5 27.5 0 1 1 16.2 22.2C9 26.5 3 30 0 35C-3 30 -9 26.5 -16.2 22.2Z" fill="#fefbd2"/>
<path d="M7 -22.5C12.5 -15 14 -4 10.5 3.5C6.5 9.5 -5 12.5 -12.5 16C-15 17.5 -16.2 20 -16.2 22.2C-9 26.5 -3 30 0 35C3 30 9 26.5 16.2 22.2A27.5 27.5 0 0 0 13 -24.2Z" fill="#f0edbf"/>
<path d="M-16.2 22.2A27.5 27.5 0 1 1 16.2 22.2C9 26.5 3 30 0 35C-3 30 -9 26.5 -16.2 22.2Z" fill="none" stroke="#2f3538" stroke-width="1.1"/>
<path d="M-1.1 58.3C-1.2 62 -1.6 66 -2.6 69.5C-3.4 72 -5.1 74 -4.9 75.7C-4 77.5 4 77.5 4.9 75.7C5.1 74 3.4 72 2.6 69.5C1.6 66 1.2 62 1.1 58.3Z" fill="#f47a20"/>
<rect x="-2.9" y="118.5" width="5.8" height="8.3" fill="#a9aeb0" stroke="#4a5052" stroke-width="0.8"/>
</g>
</defs>
<use href="#balloon" transform="translate(564.9 435.8)"/>
<use href="#balloon" transform="translate(877.6 395.8)"/>
</g>

<!-- PLANE -->
<g id="plane" stroke-linejoin="round">
<!-- fuselage -->
<path id="fus" d="M391.5 694.6C399 692.2 420 691.5 436.3 691.4H630C640 691.6 650 694.6 658.8 699.4C662 701.3 664.6 703.6 665.3 705.4C664.8 707.6 660 710 655 711.9C650 713.6 646 714.8 642.5 715H452C446 714.6 441 713.2 436.2 712C424 709.5 410 707 401.5 703.6C397 701.5 393.5 698 391.5 694.6Z" fill="#fff" stroke="#14263a" stroke-width="0.9"/>
<!-- blue rear -->
<path d="M391.5 694.6C399 692.2 420 691.5 436.3 691.4H500.5L449.4 713.9C446 713.6 441 713 436.2 712C424 709.5 410 707 401.5 703.6C397 701.5 393.5 698 391.5 694.6Z" fill="#0d6bf0"/>
<!-- fin -->
<path d="M388.9 655.5H400.2L417.5 675C422 679.5 426 683 429.7 686.2L436.8 691.6L405.5 694.4Z" fill="#0d6bf0" stroke="#0a2f7a" stroke-width="0.7"/>
<path d="M392.6 656L409.2 693.8" stroke="#0a2f7a" stroke-width="0.8" fill="none"/>
<!-- logo -->
<g fill="#e4ecff" stroke="none">
<circle cx="411.7" cy="679.4" r="3.9"/>
<path d="M408.9 676.2L410.2 674.3L411.7 675.6L413.2 674.3L414.5 676.2Z"/>
<path d="M410.9 683H412.5L412.9 691.4H410.5Z"/>
<path d="M410.7 689.2C407.2 688.8 404.6 685.6 403.2 681.2C406.4 682.4 409.3 685.2 410.7 689.2Z"/>
<path d="M412.7 689.2C416.2 688.8 418.8 685.6 420.2 681.2C417 682.4 414.1 685.2 412.7 689.2Z"/>
<path d="M410.6 686.2C408.6 685.8 406.8 684 406.2 681.6C408.4 682.4 410 684 410.6 686.2ZM412.8 686.2C414.8 685.8 416.6 684 417.2 681.6C415 682.4 413.4 684 412.8 686.2Z"/>
</g>
<g fill="#5b93f2"><circle cx="410.5" cy="678.6" r="0.7"/><circle cx="412.9" cy="678.6" r="0.7"/><circle cx="411.7" cy="680.6" r="0.7"/><circle cx="411.7" cy="677" r="0.6"/></g>
<!-- stabilizer -->
<path d="M385.2 693.6C389.5 693 395.5 693.2 399.5 694C406.5 695.4 416.5 698.6 423.6 700.8C424.2 701.5 422.5 702 421 702C414 702.2 406.5 701.2 399.5 699.4C393.5 697.6 388.5 695.4 385.2 693.6Z" fill="#fff" stroke="#14263a" stroke-width="0.8"/>
<!-- windows -->
<path d="M445.6 701.9H474" stroke="#fff" stroke-width="1.7" stroke-dasharray="1.3 0.75" fill="none"/>
<path d="M474 701.9H600" stroke="#2f6fe0" stroke-width="1.7" stroke-dasharray="1.3 0.75" fill="none"/>
<path d="M604.5 701.9H636.4" stroke="#3a73dc" stroke-width="1.7" stroke-dasharray="1.3 0.4" fill="none"/>
<!-- doors -->
<g fill="#fff" stroke="#4a5a70" stroke-width="0.7">
<rect x="489.4" y="698.3" width="5" height="7.2"/>
<rect x="539.2" y="697.4" width="4.6" height="6.6"/>
<rect x="598.7" y="697.4" width="5" height="8.1"/>
<rect x="636.6" y="697.4" width="5" height="8.1"/>
</g>
<rect x="439.2" y="697.6" width="5" height="8" fill="#0d6bf0" stroke="#fff" stroke-width="0.8"/>
<!-- cockpit window -->
<path d="M653 700.6C654.5 699.2 657 698.9 658.6 699.6C658.9 700.6 658 701.8 656.4 702.2C654.8 702.5 653.3 701.8 653 700.6Z" fill="#0d6bf0"/>
<!-- wing root fairing -->
<ellipse cx="536.6" cy="712.6" rx="42" ry="5.3" fill="#dcdfe3" stroke="#2a3440" stroke-width="0.7"/>
<path d="M512.5 716.3L521.3 707.5L545 706.3L538.8 716.3Z" fill="#a7aeb8"/>
<!-- wing -->
<path d="M479.6 688.2C481.2 688.6 483.6 690.6 486 693C488.4 695.2 491 697 493.4 697.8C503 699.4 518 700.6 535.4 701.8C536.2 702.6 535 703.6 533 704.2C528 705.6 522 706.4 516 706.4C508 705.6 499 702.8 492 700C488.4 698 483 692.4 479.6 688.2Z" fill="#d5d9de" stroke="#39424e" stroke-width="0.7"/>
<path d="M497 700.6C503 701 509 701.8 514.6 702.8L510 704.6C505 703.8 500 702.4 497 700.6Z" fill="#fff"/>
<path d="M514.6 702.8L534 703L529 706.2L519 706.6L510 704.6Z" fill="#9098a4" stroke="#39424e" stroke-width="0.4"/>
<path d="M517 707.4L531 706.6L533.5 708.6L520 709.6Z" fill="#b9bfc8" stroke="#4a5360" stroke-width="0.4"/>
<!-- engine -->
<path d="M540 714.4L548.2 710.6V718.2Z" fill="#2b2f36"/>
<path d="M548.2 708C549 706.8 568 706.4 569.6 707.2C570.4 711 570.4 717 569.6 720.8C568 721.8 549 721.4 548.2 720.2C547.8 716 547.8 712 548.2 708Z" fill="#0d6bf0" stroke="#0a3ca0" stroke-width="0.6"/>
<!-- antenna -->
<path d="M504.4 691.3L505.6 690L507.6 691.3Z" fill="#14263a"/>
</g>

<!-- ARROWS -->
<g id="arrows" fill="#2b2f92" stroke="none">
<path id="ah" d="M0 0C1.4 8 4 17.5 8 25.6L0 21.4L-8 25.6C-4 17.5 -1.4 8 0 0Z" transform="translate(1409.1 49)"/>
<path d="M0 0C1.4 8 4 17.5 8 25.6L0 21.4L-8 25.6C-4 17.5 -1.4 8 0 0Z" transform="translate(1409.1 670.4) scale(1 -1)"/>
<path d="M0 0C1.4 8 4 17.5 8 25.6L0 21.4L-8 25.6C-4 17.5 -1.4 8 0 0Z" transform="translate(1408.9 733.8)"/>
<path d="M0 0C1.4 8 4 17.5 8 25.6L0 21.4L-8 25.6C-4 17.5 -1.4 8 0 0Z" transform="translate(1408.9 873) scale(1 -1)"/>
<path d="M0 0C1.2 6.5 3.2 14 6.5 20.8L0 17.4L-6.5 20.8C-3.2 14 -1.2 6.5 0 0Z" transform="translate(838.3 677.2)"/>
<path d="M0 0C1.2 6.5 3.2 14 6.5 20.8L0 17.4L-6.5 20.8C-3.2 14 -1.2 6.5 0 0Z" transform="translate(838.3 726.5) scale(1 -1)"/>
<path d="M1409.1 70V375.5M1409.1 457.5V650M1408.9 755V764.5M1408.9 842V852M838.3 694V710" stroke="#2b2f92" stroke-width="3" fill="none"/>
</g>
<!-- AXES -->
<g id="axes" stroke="#000" fill="none">
<rect x="150.6" y="40.3" width="1375.7" height="859.1" stroke-width="5"/>
<path stroke-width="2.7" d="M153 126.2H168M153 212.1H168M153 298H168M153 383.9H168M153 469.8H168M153 555.7H168M153 641.6H168M153 727.5H168M153 813.4H168"/>
<path stroke-width="2.7" d="M262.4 897V879.4M377 897V879.4M491.7 897V879.4M606.4 897V879.4M721 897V879.4M835.7 897V879.4M950.4 897V879.4M1065 897V879.4M1179.6 897V879.4M1294.2 897V879.4M1408.8 897V879.4"/>
</g>
<!-- LABELS -->
<g id="labels">
<text class="r" x="136.6" y="51.5">50</text>
<text class="r" x="136.6" y="223.4">40</text>
<text class="r" x="136.6" y="395.2">30</text>
<text class="r" x="136.6" y="567.0">20</text>
<text class="r" x="136.6" y="738.8">10</text>
<text class="r" x="136.6" y="910.7">0</text>
<text class="c" x="150.3" y="941.7">0</text>
<text class="c" x="377" y="941.7">200</text>
<text class="c" x="606.3" y="941.7">400</text>
<text class="c" x="835.7" y="941.7">600</text>
<text class="c" x="1065" y="941.7">800</text>
<text class="c" x="1294" y="941.7">1,000</text>
<text class="c" x="1527" y="941.7">1,200</text>
<text class="c" x="836" y="1005">pressure (mbar)</text>
<text class="c" transform="translate(60 470) rotate(-90)">altitude (km)</text>
<text class="copy" x="13.4" y="1024">© Encylopædia Britannica, Inc.</text>
<text class="c" x="1268.5" y="216">standard</text>
<text class="c" x="1268.5" y="255">pressure</text>
<text class="c" x="1268.5" y="294.5">at sea level</text>
<text class="c" x="1268.5" y="334">(1,013.25 mbar)</text>
<text class="c" x="1409.4" y="407.5">stratosphere</text>
<text class="c" x="1409.2" y="447">(13–50 km)</text>
<text class="c" x="723" y="434">weather</text>
<text class="c" x="722.6" y="473.5">balloons</text>
<text class="c" x="723" y="512.5">(18–30 km)</text>
<text class="c" x="325.9" y="498.5">Mount Everest</text>
<text class="c" x="326.5" y="537.5">(8.8 km)</text>
<text class="c" x="524.7" y="640">commercial airliner</text>
<text class="c sm" x="468.7" y="798.9">cumulus clouds</text>
<text class="c sm" x="469.4" y="835.5">(1–2 km)</text>
<text class="c" x="838" y="617.5">tropopause</text>
<text class="c" x="838" y="656.5">(10–13 km)</text>
<text class="c" x="1133" y="617.5">cirrus clouds</text>
<text class="c" x="1133" y="656.5">(10–13 km)</text>
<text class="c" x="966" y="804">altostratus clouds (4–5 km)</text>
<text class="c" x="1409.4" y="792.5">troposphere</text>
<text class="c" x="1409.4" y="832.5">(0–10 km)</text>
</g>
</svg>
</body>
</html>
